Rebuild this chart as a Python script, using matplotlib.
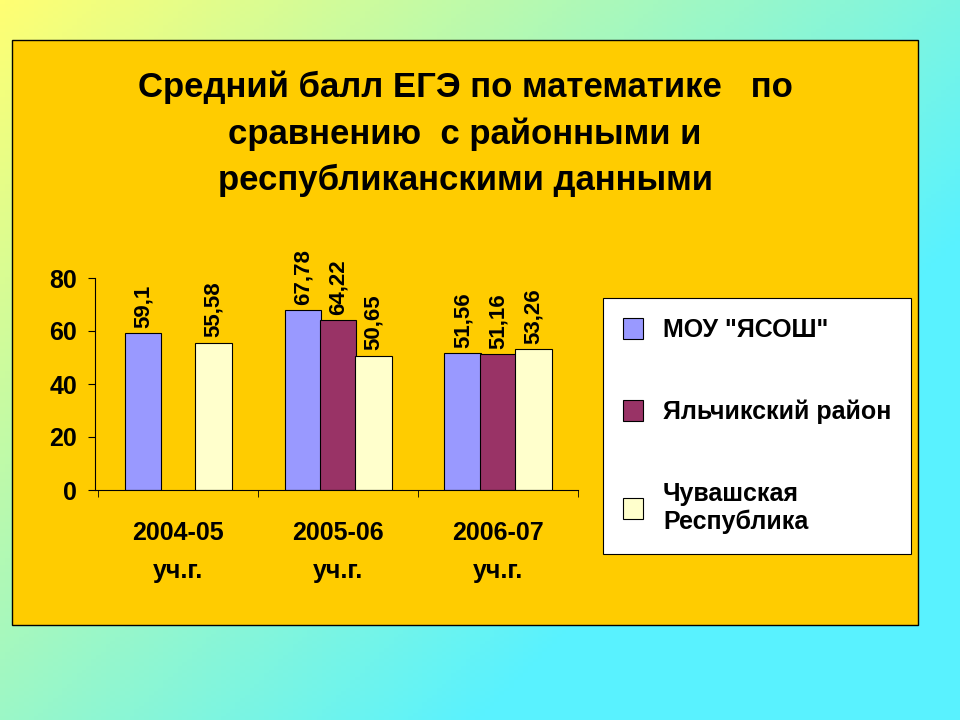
import numpy as np
import matplotlib
matplotlib.use("Agg")
import matplotlib.pyplot as plt
from matplotlib.patches import Rectangle

categories = ["2004-05\nуч.г.", "2005-06\nуч.г.", "2006-07\nуч.г."]
series_names = ['МОУ "ЯСОШ"', "Яльчикский район", "Чувашская\nРеспублика"]
school = [59.1, 67.78, 51.56]
district = [np.nan, 64.22, 51.16]
republic = [55.58, 50.65, 53.26]
labels_school = ["59,1", "67,78", "51,56"]
labels_district = ["", "64,22", "51,16"]
labels_republic = ["55,58", "50,65", "53,26"]
colors = ["#9999FF", "#993366", "#FFFFCC"]
yticks = [0, 20, 40, 60, 80]

plt.rcParams['font.family'] = ['Liberation Sans', 'DejaVu Sans']
fig = plt.figure(figsize=(9.6, 7.2), dpi=100)

bg = fig.add_axes([0, 0, 1, 1], zorder=-10)
yy, xx = np.mgrid[0:1:200j, 0:1:200j]
t = np.clip((xx * 0.8 + yy * 0.6) / 1.0, 0, 1)
c1 = np.array([1.0, 1.0, 0.45]); c2 = np.array([0.35, 0.95, 1.0])
img = c1[None, None, :] * (1 - t[..., None]) + c2[None, None, :] * t[..., None]
bg.imshow(img, extent=[0, 1, 0, 1], aspect='auto')
bg.add_patch(Rectangle((12/960, 1-625/720), 906/960, 585/720, facecolor="#FFCC00",
                       edgecolor="black", lw=1, transform=bg.transAxes))
bg.axis('off')
bg.set_xlim(0, 1); bg.set_ylim(0, 1)

fig.text(465/960, 1-134/720, "Средний балл ЕГЭ по математике   по\nсравнению  с районными и\nреспубликанскими данными",
         ha='center', va='center', fontsize=25, fontweight='bold', linespacing=1.5)

ax = fig.add_axes([95/960, 1-490/720, 483/960, 212/720])
ax.set_facecolor('none')
x = np.arange(len(categories))
w = 0.23; off = 0.22
all_series = [(school, labels_school, -off), (district, labels_district, 0), (republic, labels_republic, off)]
for (vals, labs, o), col, name in zip(all_series, colors, series_names):
    ax.bar(x + o, vals, w, color=col, edgecolor='black', lw=0.8, label=name)
    for xi, v, lb in zip(x, vals, labs):
        if lb:
            ax.text(xi + o, v + 2, lb, rotation=90, ha='center', va='bottom',
                    fontsize=16, fontweight='bold')
ax.set_xlim(-0.52, 2.5)
ax.set_ylim(0, 80)
ax.set_yticks(yticks)
ax.set_yticklabels([str(v) for v in yticks], fontsize=18, fontweight='bold')
ax.set_xticks(x)
ax.set_xticklabels(categories, fontsize=18, fontweight='bold', linespacing=1.75)
ax.tick_params(axis='x', length=0, pad=22)
ax.set_xticks([-0.5, 0.5, 1.5, 2.5], minor=True)
ax.tick_params(axis='x', which='minor', length=5)
ax.tick_params(axis='y', length=5, pad=8)
ax.spines['top'].set_visible(False)
ax.spines['right'].set_visible(False)

leg = fig.legend(loc='upper left', bbox_to_anchor=(603/960, 1-298/720),
                 frameon=True, fancybox=False, edgecolor='black', facecolor='white',
                 framealpha=1, labelspacing=2.3, handlelength=0.8, handleheight=0.9,
                 borderpad=0.8, handletextpad=0.8, borderaxespad=0,
                 prop={'weight': 'bold', 'size': 18})
leg.get_frame().set_linewidth(0.8)

fig.savefig("out.png", dpi=100)
